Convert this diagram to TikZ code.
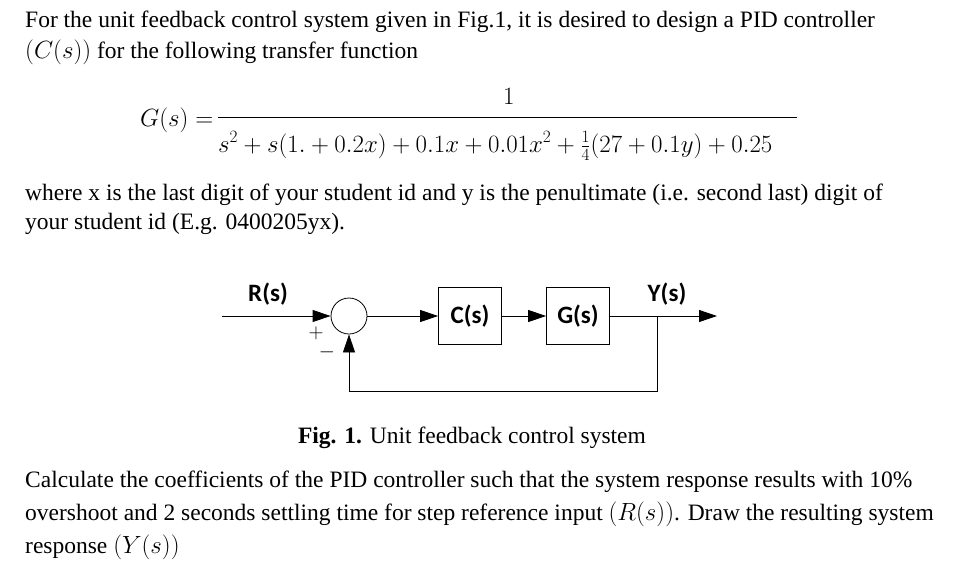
\documentclass[tikz,border=0pt]{standalone}
\usepackage{fontspec}
\setmainfont{Liberation Serif}
\newfontfamily\blockfont{Carlito}
\usetikzlibrary{positioning, calc, arrows.meta}

\begin{document}
\begin{tikzpicture}[x=1pt,y=-1pt]
\tikzset{txt/.style={anchor=base west, inner sep=0pt, font=\fontsize{23.5}{28}\selectfont},
    eqn/.style={anchor=base west, inner sep=0pt, font=\fontsize{26}{30}\selectfont},
    blk/.style={rectangle, draw=black, thick, minimum width=63pt, minimum height=57pt, inner sep=0pt, font=\blockfont\bfseries\fontsize{25}{28}\selectfont},
    sig/.style={font=\blockfont\bfseries\fontsize{25}{28}\selectfont, inner sep=0pt},
    arr/.style={thick, -{Triangle[length=18pt,width=12pt]}}
}
    \useasboundingbox (0,0) rectangle (954,587);

    % problem text
    \node[txt] (l1) at (25,27) {For the unit feedback control system given in Fig.1, it is desired to design a PID controller};
    \node[txt] (l2) at (25,58) {{\fontsize{27}{30}\selectfont$\bigl(C(s)\bigr)$} for the following transfer function};

    \node[eqn] (gs) at (140,126) {$G(s) =$};
    \coordinate (bar_l) at (218,117);
    \coordinate (bar_r) at (797,117);
    \draw[thick] (bar_l) -- (bar_r);
    \node[eqn] (num) at (503,104) {$1$};
    \node[eqn] (den) at (218,152) {$s^2 + s(1.+0.2x) + 0.1x + 0.01x^2 + \frac{1}{4}(27+0.1y) + 0.25$};

    \node[txt] (l3) at (25,200) {where x is the last digit of your student id and y is the penultimate (i.e. second last) digit of};
    \node[txt] (l4) at (25,229) {your student id (E.g. 0400205yx).};

    % block diagram
    \coordinate (in) at (222,316);
    \node[circle, draw=black, thick, minimum size=36pt, inner sep=0pt] (sum) at (349,316) {};
    \node[blk] (ctrl) at (470,316) {C(s)};
    \node[blk] (plant) at (578,316) {G(s)};
    \coordinate (branch) at (657,316);
    \coordinate (out) at (717,316);
    \coordinate (fb) at (657,391);

    \draw[arr] (in) -- (sum.west);
    \draw[arr] (sum.east) -- (ctrl.west);
    \draw[arr] (ctrl.east) -- (plant.west);
    \draw[arr] (plant.east) -- (out);
    \draw[arr] (branch) -- (fb) -| (sum.south);

    \node[sig] (rs) at (268,294) {R(s)};
    \node[sig] (ys) at (667,294) {Y(s)};
    \node[font=\fontsize{22}{24}\selectfont, inner sep=0pt] (plus) at (316,333) {$+$};
    \node[font=\fontsize{22}{24}\selectfont, inner sep=0pt] (minus) at (327,352) {$-$};

    \node[txt, anchor=base] (cap) at (472,443) {\textbf{Fig. 1.} Unit feedback control system};

    \node[txt] (l5) at (25,487) {Calculate the coefficients of the PID controller such that the system response results with 10\%};
    \node[txt] (l6) at (25,520) {overshoot and 2 seconds settling time for step reference input {\fontsize{27}{30}\selectfont$\bigl(R(s)\bigr)$}. Draw the resulting system};
    \node[txt] (l7) at (25,553) {response {\fontsize{27}{30}\selectfont$\bigl(Y(s)\bigr)$}};
\end{tikzpicture}
\end{document}
